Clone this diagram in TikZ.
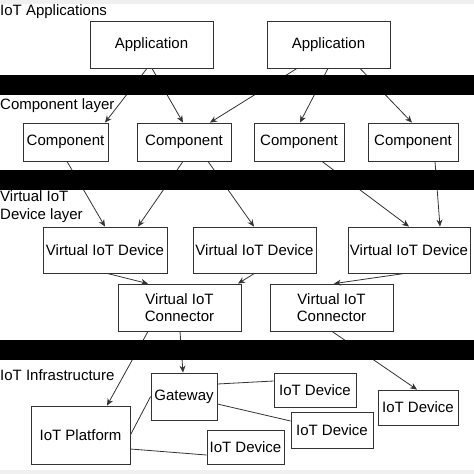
\documentclass[tikz,border=0pt]{standalone}
\usepackage{fontspec}
\setmainfont{Liberation Sans}
\usetikzlibrary{arrows.meta}
\begin{document}
\begin{tikzpicture}[x=1pt,y=-1pt,
  box/.style={draw=black!80,line width=0.8pt,inner sep=0pt,align=center,
    font=\fontsize{15}{17}\selectfont},
  lbl/.style={anchor=west,inner sep=0pt,align=left,font=\fontsize{15}{18}\selectfont},
  bar/.style={fill=black,draw=none},
  arr/.style={draw=black!80,line width=0.8pt,-{Stealth[length=7pt,width=6pt]}},
  link/.style={draw=black!80,line width=0.8pt}]
\useasboundingbox (0,0) rectangle (474,474);
\fill[black!6] (0,0) rectangle (474,4);
\fill[black!6] (0,470) rectangle (474,474);
% nodes
\node[box,minimum width=123pt,minimum height=47pt] (app1) at (151.5,44.5) {Application};
\node[box,minimum width=123pt,minimum height=47pt] (app2) at (328.5,44.5) {Application};
\node[box,minimum width=85pt,minimum height=38pt] (c1) at (65.5,142) {Component};
\node[box,minimum width=94pt,minimum height=38pt] (c2) at (184,142) {Component};
\node[box,minimum width=90pt,minimum height=38pt] (c3) at (299,142) {Component};
\node[box,minimum width=90pt,minimum height=38pt] (c4) at (413,142) {Component};
\node[box,minimum width=124pt,minimum height=46pt] (v1) at (105,250) {Virtual IoT Device};
\node[box,minimum width=123pt,minimum height=46pt] (v2) at (254.5,250) {Virtual IoT Device};
\node[box,minimum width=122pt,minimum height=46pt] (v3) at (409,250) {Virtual IoT Device};
\node[box,minimum width=123pt,minimum height=47pt] (k1) at (179.5,307.5) {Virtual IoT\\Connector};
\node[box,minimum width=123pt,minimum height=47pt] (k2) at (331.5,307.5) {Virtual IoT\\Connector};
\node[box,minimum width=66pt,minimum height=47pt] (gw) at (184,396.5) {Gateway};
\node[box,minimum width=99pt,minimum height=58pt] (pl) at (80.5,435) {IoT Platform};
\node[box,minimum width=77pt,minimum height=34pt] (d0) at (245.5,447) {IoT Device};
\node[box,minimum width=82pt,minimum height=34pt] (da) at (315,390) {IoT Device};
\node[box,minimum width=82pt,minimum height=36pt] (db) at (332,430) {IoT Device};
\node[box,minimum width=80pt,minimum height=35pt] (dc) at (418,407.5) {IoT Device};
% connectors
\draw[arr] ([xshift=-4.5pt]app1.south) -- ([xshift=39.5pt]c1.north);
\draw[arr] ([xshift=0.5pt]app1.south) -- ([xshift=-1pt]c2.north);
\draw[arr] ([xshift=-31.5pt]app2.south) -- ([xshift=26pt]c2.north);
\draw[arr] ([xshift=-0.5pt]app2.south) -- ([xshift=1pt]c3.north);
\draw[arr] ([xshift=31.5pt]app2.south) -- ([xshift=-1pt]c4.north);
\draw[arr] ([xshift=1.5pt]c1.south) -- (v1.north);
\draw[arr] ([xshift=-1pt]c2.south) -- ([xshift=33pt]v1.north);
\draw[arr] ([xshift=24pt]c2.south) -- ([xshift=-0.5pt]v2.north);
\draw[arr] ([xshift=23pt]c3.south) -- (v3.north);
\draw[arr] ([xshift=22pt]c4.south) -- ([xshift=31pt]v3.north);
\draw[arr] ([xshift=2pt]v1.south) -- ([xshift=-31.5pt]k1.north);
\draw[arr] (v2.south) -- ([xshift=58.5pt]k1.north);
\draw[arr] ([xshift=-4pt]v3.south) -- ([xshift=2.5pt]k2.north);
\draw[arr] ([xshift=-31.5pt]k1.south) -- ([xshift=26.5pt]pl.north);
\draw[arr] ([xshift=0.5pt]k1.south) -- ([xshift=-1pt]gw.north);
\draw[arr] ([xshift=0.5pt]k2.south) -- ([xshift=-1pt]dc.north);
\draw[link] (gw.west) -- (pl.east);
\draw[link] ([yshift=12.5pt]gw.east) -- ([yshift=9pt]da.west);
\draw[link] ([yshift=-7.5pt]gw.east) -- ([yshift=9pt]db.west);
\draw[link] ([yshift=-14pt]pl.east) -- ([yshift=-8pt]d0.west);
% bars
\fill[bar] (0,75) rectangle (474,95);
\fill[bar] (0,170) rectangle (474,190);
\fill[bar] (0,340) rectangle (474,360);
% layer labels
\node[lbl] (l1) at (0,12) {IoT Applications};
\node[lbl] (l2) at (0,106) {Component layer};
\node[lbl] (l3) at (0,207) {Virtual IoT\\Device layer};
\node[lbl] (l4) at (0,375) {IoT Infrastructure};
\end{tikzpicture}
\end{document}
